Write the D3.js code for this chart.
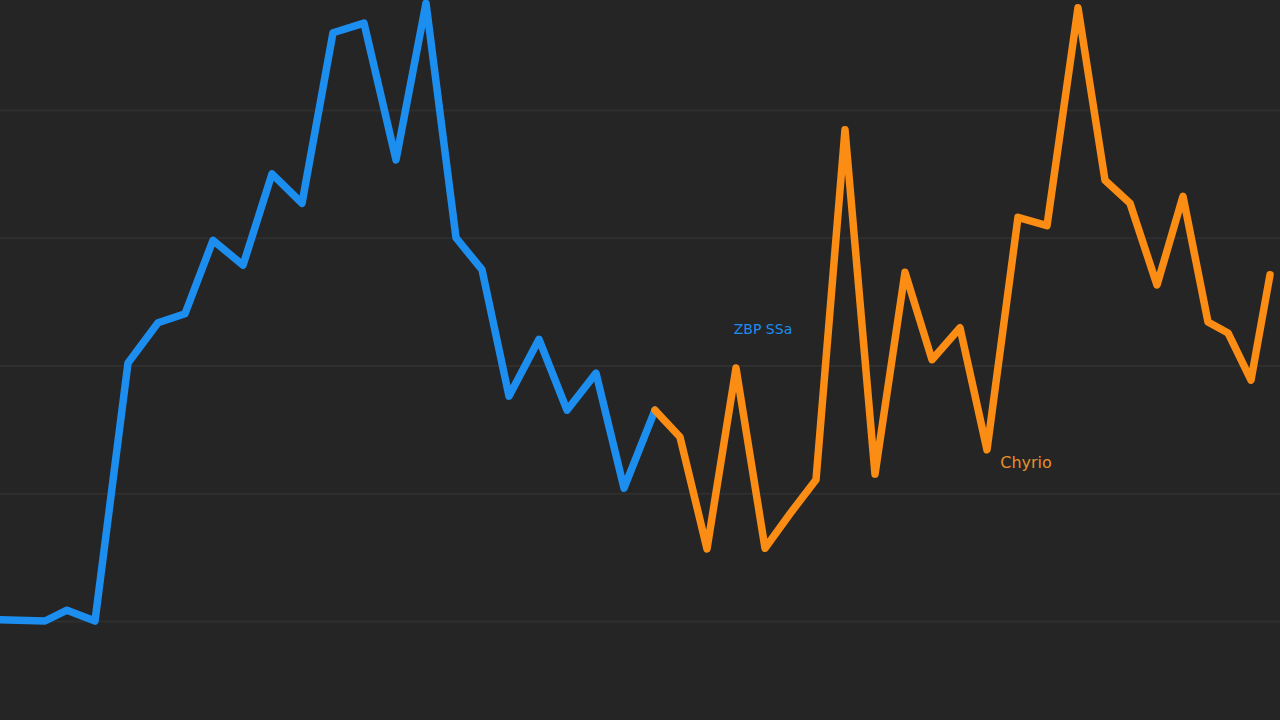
<!DOCTYPE html>
<html>
<head>
<meta charset="utf-8">
<script src="https://cdn.jsdelivr.net/npm/d3@7"></script>
<style>
html,body{margin:0;padding:0;background:#252525;overflow:hidden;}
svg{display:block;}
</style>
</head>
<body>
<svg id="chart" width="1280" height="720"></svg>
<script>
// Data (x in time units, y in value units)
const blueX = [0, 4.5, 6.7, 9.5, 12.8, 15.8, 18.5, 21.3, 24.3, 27.2, 30.2, 33.3, 36.4, 39.6, 42.6, 45.6, 48.2, 50.9, 53.9, 56.7, 59.6, 62.4, 65.5];
const blueY = [0.2, 0, 1.7, 0, 40.4, 46.7, 48.1, 59.6, 55.7, 70.0, 65.4, 92.1, 93.6, 72.2, 96.7, 60.0, 55.0, 35.2, 44.1, 33.0, 38.8, 20.8, 33.0];
const orangeX = [65.5, 68.0, 70.7, 73.6, 76.5, 79.0, 81.6, 84.5, 87.5, 90.5, 93.2, 96.0, 98.7, 101.8, 104.7, 107.8, 110.5, 113.0, 115.7, 118.3, 120.8, 122.8, 125.1, 127.0];
const orangeY = [33.0, 28.8, 11.3, 39.6, 11.4, 16.8, 22.1, 76.9, 23.0, 54.6, 40.9, 45.9, 26.8, 63.2, 61.9, 96.0, 69.0, 65.4, 52.6, 66.5, 46.8, 45.1, 37.7, 54.2];
const gridTicks = [0, 20, 40, 60, 80];
const labels = [
  {text: "ZBP SSa", x: 76.3, y: 45.5, series: "blue"},
  {text: "Chyrio", x: 102.6, y: 24.6, series: "orange"}
];

const colors = {blue: "#1b8ef0", orange: "#fb8c14"};

const svg = d3.select("#chart");
const x = d3.scaleLinear().domain([0, 128]).range([0, 1280]);
const y = d3.scaleLinear().domain([0, 80]).range([621, 110]);

// gridlines
svg.append("g")
  .call(d3.axisLeft(y).tickValues(gridTicks).tickSize(-1280).tickFormat(""))
  .call(g => g.select(".domain").remove())
  .call(g => g.selectAll(".tick line").attr("stroke", "#2f2f2f").attr("stroke-width", 2));

const line = d3.line().x(d => x(d[0])).y(d => y(d[1]));

const blue = blueX.map((v, i) => [v, blueY[i]]);
const orange = orangeX.map((v, i) => [v, orangeY[i]]);

svg.append("path").datum(blue)
  .attr("d", line).attr("fill", "none")
  .attr("stroke", colors.blue).attr("stroke-width", 7.5)
  .attr("stroke-linejoin", "round").attr("stroke-linecap", "round");

svg.append("path").datum(orange)
  .attr("d", line).attr("fill", "none")
  .attr("stroke", colors.orange).attr("stroke-width", 7.5)
  .attr("stroke-linejoin", "round").attr("stroke-linecap", "round");

svg.selectAll("text.lbl").data(labels).enter().append("text")
  .attr("class", "lbl")
  .attr("x", d => x(d.x)).attr("y", d => y(d.y))
  .attr("text-anchor", "middle")
  .attr("dominant-baseline", "middle")
  .attr("font-family", "DejaVu Sans, sans-serif")
  .attr("font-size", d => d.series === "blue" ? 14 : 16)
  .attr("fill", d => d.series === "blue" ? colors.blue : "#e8902a")
  .text(d => d.text);
</script>
</body>
</html>
